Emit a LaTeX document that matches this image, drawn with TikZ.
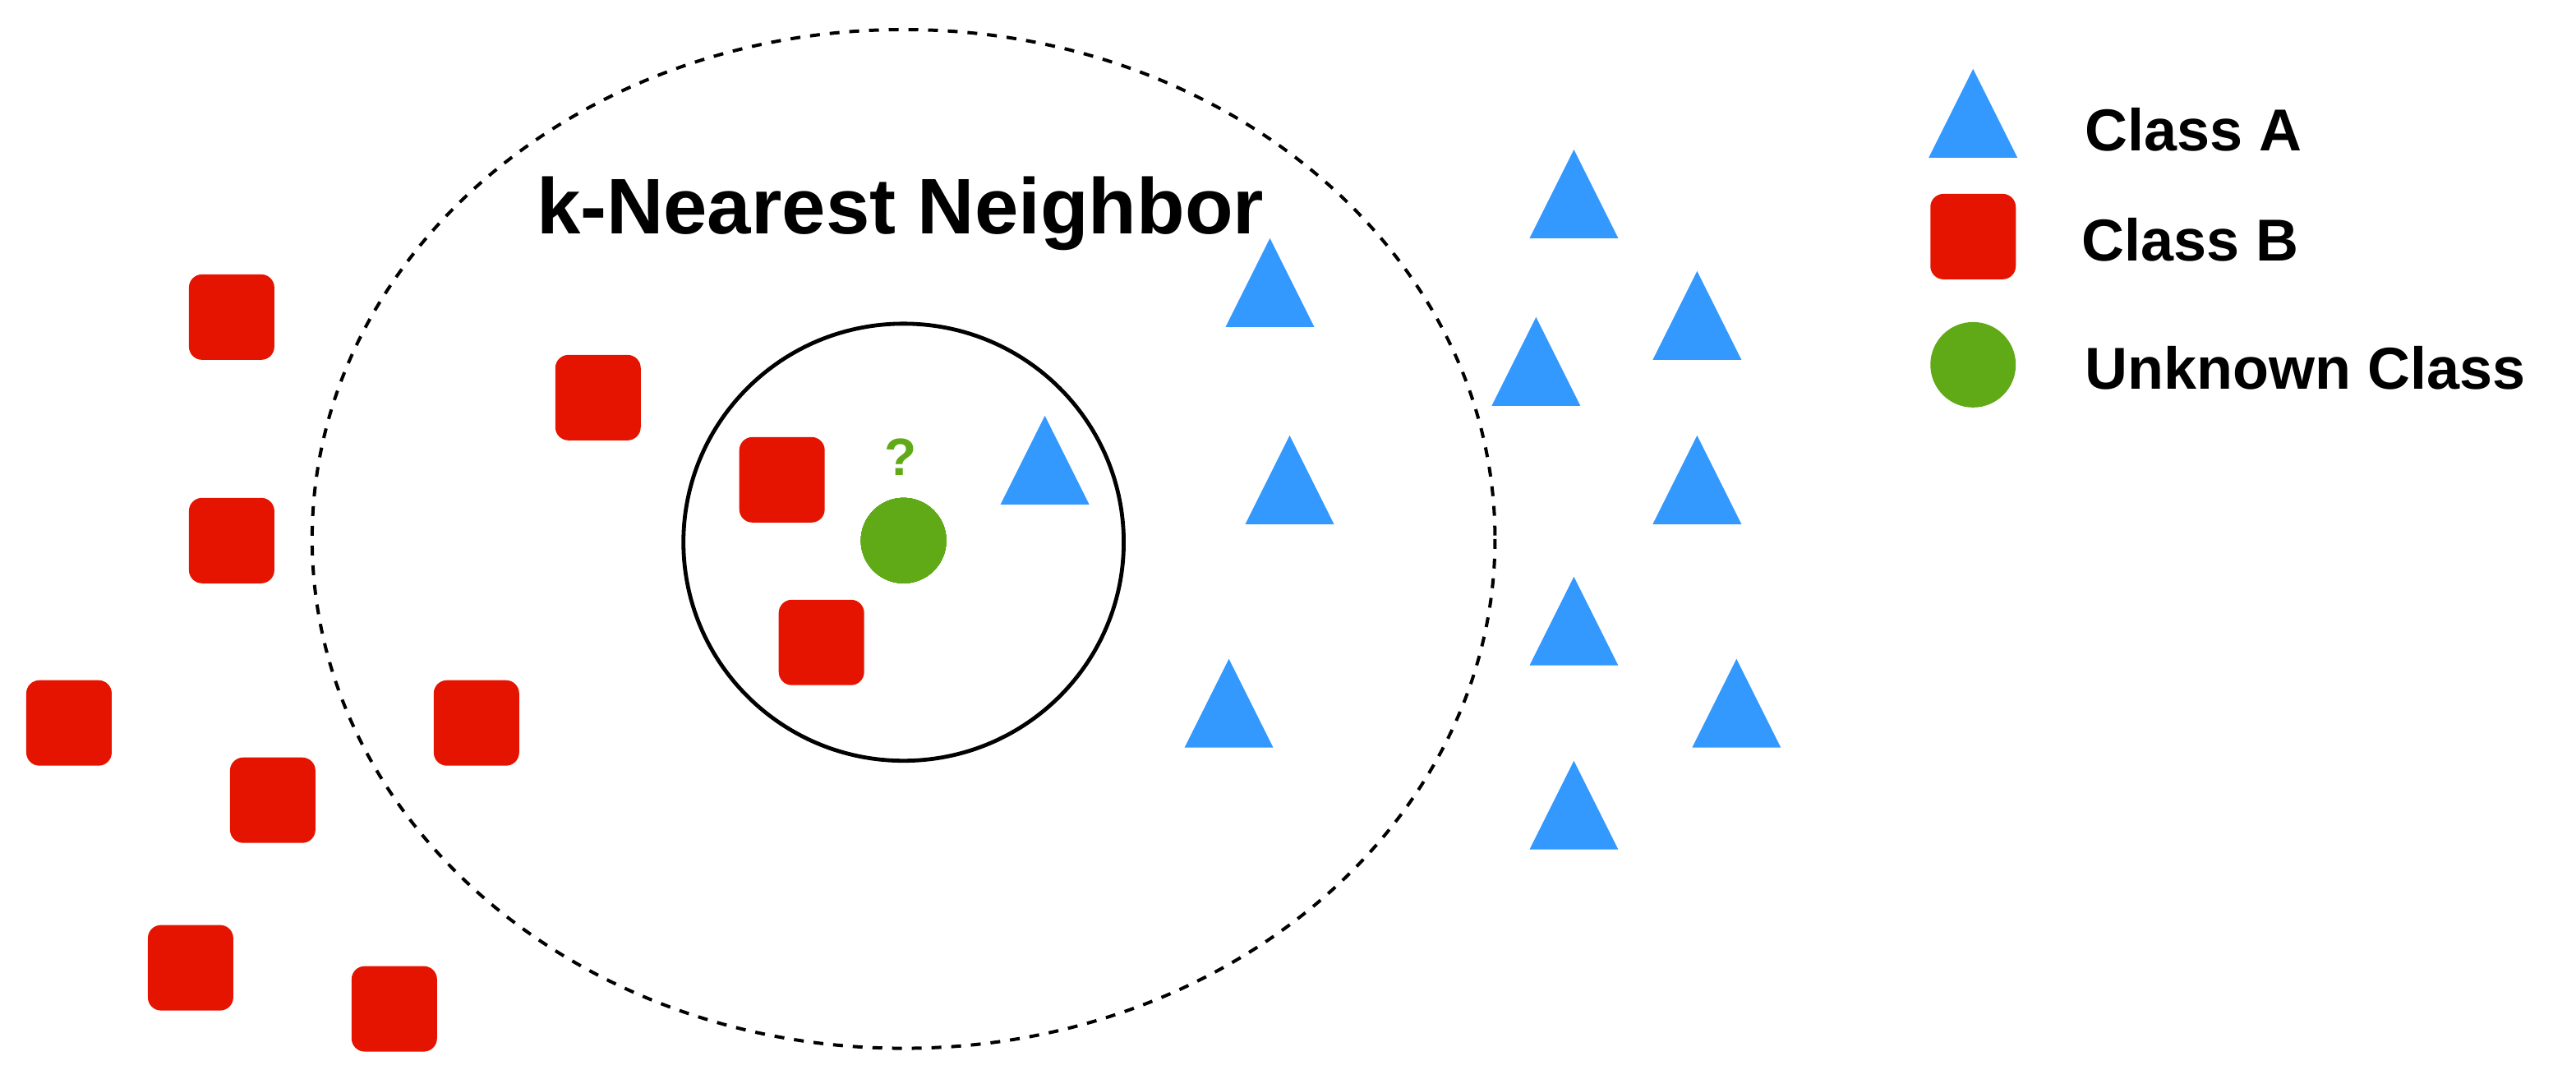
\documentclass[tikz,border=0pt]{standalone}
\usepackage{fontspec}
\setmainfont{Liberation Sans}
\definecolor{cred}{HTML}{E51400}
\definecolor{cblue}{HTML}{3399FF}
\definecolor{cgreen}{HTML}{60A917}
\begin{document}
\begin{tikzpicture}[x=0.5pt,y=-0.5pt,
  sq/.style={fill=cred,draw=none,rounded corners=4pt,minimum size=26pt,inner sep=0pt},
  dot/.style={circle,fill=cgreen,draw=none,minimum size=26pt,inner sep=0pt},
  lbl/.style={anchor=west,font=\bfseries\fontsize{18}{20}\selectfont}]
\useasboundingbox (0,0) rectangle (1568,651);
\newcommand{\tri}[2]{\fill[cblue] (#1-27,#2+27) -- (#1,#2-27) -- (#1+27,#2+27) -- cycle;}
\draw[dashed,line width=1pt] (550,328) ellipse [x radius=360, y radius=310];
\draw[line width=1.2pt] (550,330) ellipse [x radius=134, y radius=133];
\node[font=\bfseries\fontsize{24}{28}\selectfont] (title) at (548,130) {k-Nearest Neighbor};
\foreach \x/\y [count=\i] in {141/193,364/242,476/292,141/329,500/391,42/440,290/440,166/487,116/589,240/614}
  \node[sq] (s\i) at (\x,\y) {};
\foreach \x/\y in {958/118,773/172,1033/192,935/220,636/280,785/292,1033/292,958/378,748/428,1057/428,958/490}
  \tri{\x}{\y}
\node[dot] (u) at (550,329) {};
\node[text=cgreen,font=\bfseries\fontsize{16}{18}\selectfont] (q) at (548,278) {?};
\tri{1201}{69}
\node[lbl] (la) at (1262,79) {Class A};
\node[sq] (ls) at (1201,144) {};
\node[lbl] (lb) at (1260,146) {Class B};
\node[dot] (lc) at (1201,222) {};
\node[lbl] (lu) at (1262,224) {Unknown Class};
\end{tikzpicture}
\end{document}
